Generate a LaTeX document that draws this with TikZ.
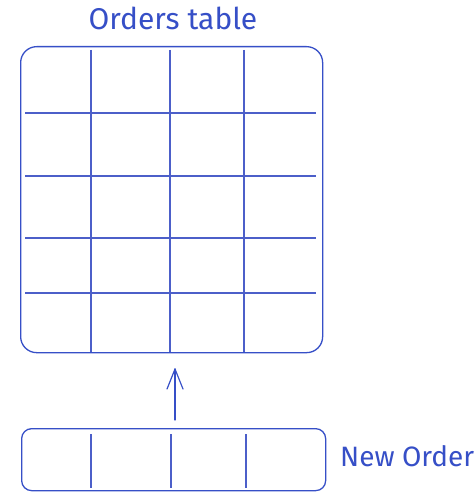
\documentclass[tikz,border=0pt]{standalone}
\usepackage{fontspec}
\setmainfont{Fira Sans}
\definecolor{ink}{HTML}{364FC7}
\definecolor{grid}{HTML}{4C5FC9}
\tikzset{
  box/.style={draw=ink, line width=1.3pt, rounded corners=#1, inner sep=0pt},
  gridline/.style={draw=grid, line width=1.1pt},
  label/.style={text=ink, inner sep=0pt},
  connector/.style={draw=ink, line width=1.2pt, line cap=round, line join=round},
}
\begin{document}
\begin{tikzpicture}[x=1pt,y=-1pt]
\useasboundingbox[fill=white] (0,0) rectangle (474,495);
% big table
\node[box=16pt, minimum width=302pt, minimum height=306pt, anchor=north west] (tbl) at (20,46) {};
\node[label, font=\fontsize{30}{34}\selectfont] (title) at (173,18) {Orders table};
% vertical lines
\foreach \x/\n in {91/a,170/b,244/c}{
  \coordinate (vt\n) at (\x,50);
  \coordinate (vb\n) at (\x,352);
  \draw[gridline] (vt\n) -- (vb\n);
}
% horizontal lines
\foreach \y/\n in {113/a,176/b,238/c,293/d}{
  \coordinate (hl\n) at (25,\y);
  \coordinate (hr\n) at (316,\y);
  \draw[gridline] (hl\n) -- (hr\n);
}
% new order row
\node[box=10pt, minimum width=304pt, minimum height=62pt, anchor=north west] (row) at (21,428) {};
\foreach \x/\n in {91/a,171/b,246/c}{
  \coordinate (rt\n) at (\x,434);
  \coordinate (rb\n) at (\x,488);
  \draw[gridline] (rt\n) -- (rb\n);
}
\node[label, anchor=west, font=\fontsize{28}{32}\selectfont] (new) at (340,456) {New Order};
% arrow
\coordinate (as) at (175,420);
\coordinate (ae) at (175,369);
\draw[connector] (as) -- (ae);
\draw[connector] ([xshift=-8pt,yshift=-20pt]ae) -- (ae) -- ([xshift=8pt,yshift=-20pt]ae);
\end{tikzpicture}
\end{document}
